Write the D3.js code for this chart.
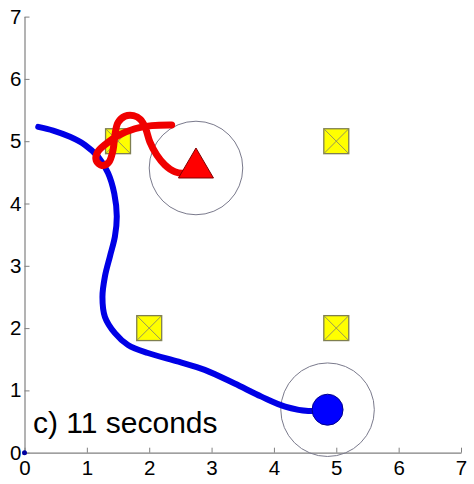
<!DOCTYPE html>
<html lang="en">
  <head>
    <meta charset="UTF-8" />
    <title>c) 11 seconds</title>
    <script src="https://d3js.org/d3.v7.min.js"></script>
    <style>
      body { margin: 0; background: #fff; }
      svg { display: block; }
    </style>
  </head>
  <body>
    <svg width="474" height="484"></svg>

    <script>
      // Axis ticks
      const xTicks = [0, 1, 2, 3, 4, 5, 6, 7];
      const yTicks = [0, 1, 2, 3, 4, 5, 6, 7];

      // Obstacles (yellow boxes)
      const boxes = [
        { x: 1.5, y: 5 },
        { x: 5, y: 5 },
        { x: 2, y: 2 },
        { x: 5, y: 2 },
      ];

      // Blue robot trail, ends at the blue robot
      const bluePath = [
        [0.22, 5.23], [0.46, 5.17], [0.73, 5.07], [0.97, 4.94], [1.18, 4.75],
        [1.34, 4.49], [1.44, 4.16], [1.48, 3.79], [1.45, 3.47], [1.37, 3.15],
        [1.29, 2.83], [1.25, 2.5], [1.29, 2.18], [1.45, 1.92], [1.66, 1.73],
        [1.98, 1.6], [2.47, 1.46], [2.89, 1.33], [3.37, 1.11], [3.8, 0.9],
        [4.18, 0.74], [4.55, 0.67], [4.86, 0.69],
      ];

      // Red robot trail, ends at the red triangle
      const redPath = [
        [2.36, 5.26], [2.04, 5.25], [1.77, 5.2], [1.5, 5.09], [1.31, 4.96],
        [1.17, 4.82], [1.15, 4.69], [1.24, 4.61], [1.35, 4.66], [1.42, 4.86],
        [1.45, 5.1], [1.5, 5.3], [1.61, 5.4], [1.75, 5.41], [1.86, 5.35],
        [1.94, 5.21], [2.01, 4.99], [2.12, 4.78], [2.25, 4.62], [2.41, 4.51],
        [2.57, 4.49], [2.75, 4.57],
      ];

      // Robots and their sensing ranges
      const robots = [
        { name: 'red', x: 2.75, y: 4.57, range: 0.75 },
        { name: 'blue', x: 4.86, y: 0.69, range: 0.75 },
      ];

      const label = 'c) 11 seconds';

      const svg = d3.select('svg');
      const margin = { left: 24.5, right: 13, top: 16.6, bottom: 31.3 };
      const width = 474, height = 484;

      const x = d3.scaleLinear().domain([0, 7]).range([margin.left, width - margin.right]);
      const y = d3.scaleLinear().domain([0, 7]).range([height - margin.bottom, margin.top]);
      const unit = x(1) - x(0);

      svg.append('rect').attr('width', width).attr('height', height).attr('fill', '#fff');

      // Axes
      const xAxis = svg
        .append('g')
        .attr('transform', `translate(0,${y(0)})`)
        .call(d3.axisBottom(x).tickValues(xTicks).tickFormat(d3.format('d')).tickSize(-5).tickSizeOuter(0).tickPadding(8));
      const yAxis = svg
        .append('g')
        .attr('transform', `translate(${x(0)},0)`)
        .call(d3.axisLeft(y).tickValues(yTicks).tickFormat(d3.format('d')).tickSize(-5).tickSizeOuter(0).tickPadding(3));
      [xAxis, yAxis].forEach((g) => {
        g.select('.domain').attr('stroke', '#808080').attr('stroke-width', 1.2);
        g.selectAll('.tick line').attr('stroke', '#808080');
        g.selectAll('text')
          .attr('fill', '#000')
          .style('font-family', '"Liberation Sans", Arial, sans-serif')
          .style('font-size', '20.5px');
      });

      // Obstacles
      const half = 0.2;
      const box = svg.selectAll('.box').data(boxes).enter().append('g').attr('class', 'box');
      box
        .append('rect')
        .attr('x', (d) => x(d.x - half))
        .attr('y', (d) => y(d.y + half))
        .attr('width', (d) => x(d.x + half) - x(d.x - half))
        .attr('height', (d) => y(d.y - half) - y(d.y + half))
        .attr('fill', '#ffff00')
        .attr('stroke', '#7f7f50')
        .attr('stroke-width', 1.3);
      box
        .append('path')
        .attr('d', (d) =>
          `M${x(d.x - half)},${y(d.y + half)}L${x(d.x + half)},${y(d.y - half)}` +
          `M${x(d.x - half)},${y(d.y - half)}L${x(d.x + half)},${y(d.y + half)}`)
        .attr('stroke', '#8a8a60')
        .attr('stroke-width', 0.9)
        .attr('fill', 'none');

      // Sensing ranges
      svg
        .selectAll('.range')
        .data(robots)
        .enter()
        .append('circle')
        .attr('class', 'range')
        .attr('cx', (d) => x(d.x))
        .attr('cy', (d) => y(d.y))
        .attr('r', (d) => d.range * unit)
        .attr('fill', 'none')
        .attr('stroke', '#7a7a8c')
        .attr('stroke-width', 1);

      // Trails
      const line = d3
        .line()
        .x((d) => x(d[0]))
        .y((d) => y(d[1]))
        .curve(d3.curveCatmullRom.alpha(0.5));

      svg
        .append('path')
        .attr('d', line(bluePath))
        .attr('fill', 'none')
        .attr('stroke', '#0000e6')
        .attr('stroke-width', 6)
        .attr('stroke-linecap', 'round')
        .attr('stroke-linejoin', 'round');

      svg
        .append('path')
        .attr('d', line(redPath))
        .attr('fill', 'none')
        .attr('stroke', '#f00000')
        .attr('stroke-width', 7)
        .attr('stroke-linecap', 'round')
        .attr('stroke-linejoin', 'round');

      // Robots
      const red = robots[0], blue = robots[1];
      const tx = x(red.x), ty = y(red.y);
      svg
        .append('path')
        .attr('d', `M${tx},${ty - 20}L${tx + 17.5},${ty + 10}L${tx - 17.5},${ty + 10}Z`)
        .attr('fill', '#ff0000')
        .attr('stroke', '#800000')
        .attr('stroke-width', 1);

      svg
        .append('circle')
        .attr('cx', x(blue.x))
        .attr('cy', y(blue.y))
        .attr('r', 15.5)
        .attr('fill', '#0000ff')
        .attr('stroke', '#00008a')
        .attr('stroke-width', 1);

      // Dot at the origin
      svg
        .append('circle')
        .attr('cx', x(0))
        .attr('cy', y(0))
        .attr('r', 2.5)
        .attr('fill', '#0000a0');

      // Caption
      svg
        .append('text')
        .attr('x', 33)
        .attr('y', 433)
        .style('font-family', '"Liberation Sans", Arial, sans-serif')
        .style('font-size', '30px')
        .attr('fill', '#000')
        .text(label);
    </script>
  </body>
</html>
